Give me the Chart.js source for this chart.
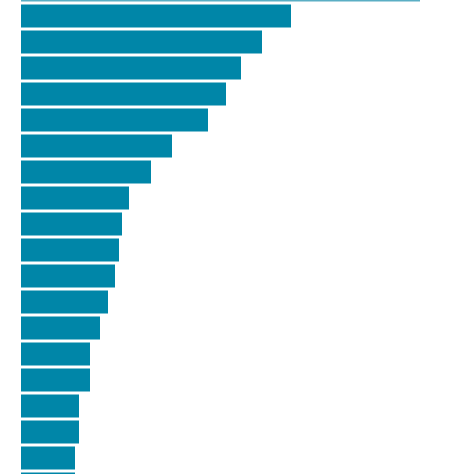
<!DOCTYPE html>
<html>
<head>
<meta charset="utf-8">
<script src="https://cdn.jsdelivr.net/npm/chart.js@4"></script>
<style>
  html, body { margin: 0; padding: 0; background: #fff; overflow: hidden; }
  #wrap { position: absolute; left: 21px; top: -23px; width: 453px; height: 520px; }
</style>
</head>
<body>
<div id="wrap"><canvas id="c"></canvas></div>
<script>
const categories = ["1","2","3","4","5","6","7","8","9","10","11","12","13","14","15","16","17","18","19","20"];
const values = [399, 270, 241, 220, 205, 187, 151, 130, 108, 101, 98, 94, 87, 79, 69, 69, 58, 58, 54, 54];
const colors = values.map((v, i) => (i === 0 ? "#5aaec4" : "#0086a8"));

new Chart(document.getElementById("c"), {
  type: "bar",
  data: {
    labels: categories,
    datasets: [{ data: values, backgroundColor: colors, barPercentage: 0.88, categoryPercentage: 1 }],
  },
  options: {
    indexAxis: "y",
    responsive: true,
    maintainAspectRatio: false,
    animation: false,
    layout: { padding: 0 },
    plugins: { legend: { display: false }, tooltip: { enabled: false } },
    scales: {
      x: { display: false, min: 0, max: 453 },
      y: { display: false },
    },
  },
});
</script>
</body>
</html>
